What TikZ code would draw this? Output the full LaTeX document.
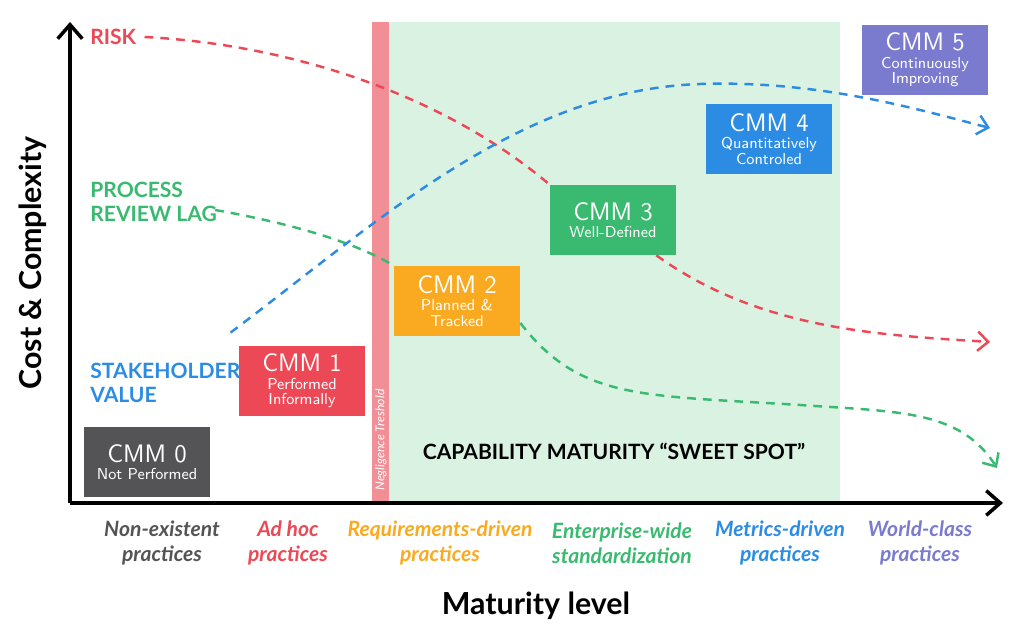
\documentclass[tikz,border=0pt]{standalone}
\usepackage{fontspec}
\setmainfont{Lato}
\usetikzlibrary{arrows.meta}
\definecolor{cmmzero}{RGB}{84,84,86}
\definecolor{cmmone}{RGB}{236,72,86}
\definecolor{cmmtwo}{RGB}{250,170,32}
\definecolor{cmmthree}{RGB}{58,186,112}
\definecolor{cmmfour}{RGB}{44,140,228}
\definecolor{cmmfive}{RGB}{122,122,206}
\definecolor{sweetspot}{RGB}{218,242,226}
\definecolor{treshold}{RGB}{242,142,150}
\begin{document}
\begin{tikzpicture}[x=0.02cm,y=-0.02cm]
            \tikzset{cmm/.style = {minimum width=2.52cm, minimum height=1.4cm, text=white, align=center, inner sep=0pt, font=\sffamily},
                     curve/.style = {dashed, line width=1.4pt, dash pattern=on 5pt off 4pt, -{Straight Barb[length=6pt,width=11pt]}},
                     lbl/.style = {anchor=west, align=left, font=\bfseries\large, inner sep=0pt},
                     lvl/.style = {align=center, font=\bfseries\itshape\large}}
            \useasboundingbox (0,0) rectangle (1021,641);
            % zones
            \fill[sweetspot] (388,22) rectangle (840,503);
            \fill[treshold] (372,22) rectangle (389,503);
            \node[rotate=90, text=white, font=\itshape\scriptsize] (neg) at (381,440) {Negligence Treshold};
            \node[font=\bfseries\large] (sweet) at (614,451) {CAPABILITY MATURITY “SWEET SPOT”};
            % axes
            \coordinate (o) at (70,503);
            \draw[line width=2pt, -{Straight Barb[length=8pt,width=14pt]}] (o) -- (70,22);
            \draw[line width=2pt, -{Straight Barb[length=8pt,width=14pt]}] (o) -- (1003,503);
            \node[rotate=90, font=\bfseries\LARGE] (ylab) at (33,263) {Cost \& Complexity};
            \node[font=\bfseries\LARGE] (xlab) at (536,606) {Maturity level};
            % levels
            \node[cmm, fill=cmmzero] (c0) at (147,462) {{\Large CMM 0}\\[-2pt]\small Not Performed};
            \node[cmm, fill=cmmone] (c1) at (302,381) {{\Large CMM 1}\\[-2pt]\small Performed\\[-3pt]\small Informally};
            \node[cmm, fill=cmmtwo] (c2) at (457,301) {{\Large CMM 2}\\[-2pt]\small Planned \&\\[-3pt]\small Tracked};
            \node[cmm, fill=cmmthree] (c3) at (613,220) {{\Large CMM 3}\\[-2pt]\small Well-Defined};
            \node[cmm, fill=cmmfour] (c4) at (769,139) {{\Large CMM 4}\\[-2pt]\small Quantitatively\\[-3pt]\small Controled};
            \node[cmm, fill=cmmfive] (c5) at (925,60) {{\Large CMM 5}\\[-2pt]\small Continuously\\[-3pt]\small Improving};
            % curve labels
            \node[lbl, text=cmmone] (risk) at (90,37) {RISK};
            \node[lbl, text=cmmthree] (lag) at (90,202) {PROCESS\\REVIEW LAG};
            \node[lbl, text=cmmfour] (value) at (90,383) {STAKEHOLDER\\VALUE};
            % curves
            \coordinate (riskend) at (990,342);
            \coordinate (lagend) at (997,468);
            \coordinate (valueend) at (990,128);
            \draw[curve, cmmone, -] (risk.east) ++(8,0) .. controls (300,45) and (450,100) .. (c3.north west);
            \draw[curve, cmmone] (c3.south east) ++(-20,0) .. controls (760,330) and (880,335) .. (riskend);
            \draw[curve, cmmthree, -] (lag.east) ++(-2,8) .. controls (300,225) and (360,245) .. (c2.north west);
            \draw[curve, cmmthree] (c2.east) ++(0,22) .. controls (580,400) and (640,395) .. (800,405) .. controls (900,412) and (960,410) .. (lagend);
            \draw[curve, cmmfour] (value.north east) ++(-10,-30) .. controls (380,220) and (520,90) .. (700,84) .. controls (820,80) and (920,110) .. (valueend);
            % level labels
            \node[lvl, text=cmmzero] (l0) at (162,543) {Non-existent\\practices};
            \node[lvl, text=cmmone] (l1) at (288,543) {Ad hoc\\practices};
            \node[lvl, text=cmmtwo] (l2) at (440,543) {Requirements-driven\\practices};
            \node[lvl, text=cmmthree] (l3) at (622,543) {Enterprise-wide\\standardization};
            \node[lvl, text=cmmfour] (l4) at (780,543) {Metrics-driven\\practices};
            \node[lvl, text=cmmfive] (l5) at (920,543) {World-class\\practices};
\end{tikzpicture}
\end{document}
